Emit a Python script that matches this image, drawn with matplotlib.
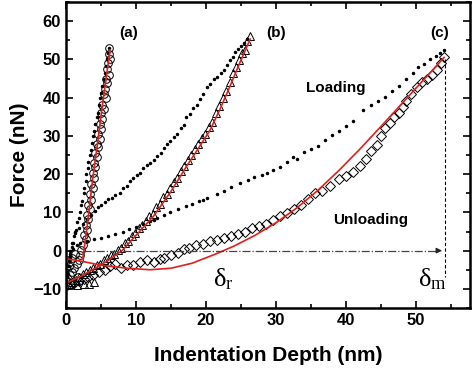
import numpy as np
import matplotlib
matplotlib.use("Agg")
import matplotlib.pyplot as plt

plt.rcParams['font.family'] = ['Liberation Sans', 'DejaVu Sans']
plt.rcParams['font.weight'] = 'bold'

# (a) loading (dots) and unloading (circles) + fit
a_load_x = [0.1, 0.2, 0.3, 0.4, 0.5, 0.6, 0.8, 1.0, 1.1, 1.3, 1.4, 1.6, 1.8, 2.0, 2.1, 2.3, 2.5, 2.6, 2.8, 2.9, 3.1,
            3.2, 3.4, 3.5, 3.7, 3.9, 4.0, 4.2, 4.4, 4.5, 4.7, 4.9, 5.0, 5.2, 5.4, 5.5, 5.7, 5.8, 6.0, 6.1]
a_load_y = [-7.0, -5.5, -4.0, -2.8, -1.5, -0.2, 1.0, 2.0, 3.8, 4.9, 5.5, 7.4, 8.6, 10.0, 11.8, 13.1, 15.0, 16.4, 18.2,
            20.0, 21.5, 23.1, 25.0, 26.2, 28.1, 30.0, 31.4, 33.2, 35.0, 36.1, 38.2, 40.0, 41.3, 43.1, 45.0, 46.4,
            48.3, 50.0, 51.6, 53.0]
a_unl_x = [6.2, 6.1, 6.3, 6.0, 5.9, 6.1, 5.7, 5.9, 5.6, 5.4, 5.7, 5.2, 5.4, 5.0, 5.2, 4.8, 5.0, 4.6, 4.8, 4.4, 4.6,
           4.2, 4.4, 4.0, 4.2, 3.8, 4.0, 3.6, 3.8, 3.4, 3.6, 3.2, 3.4, 3.0, 3.2, 2.8, 3.0, 2.6, 2.8, 2.4, 2.2,
           2.0, 1.8, 1.5, 1.2, 0.9, 0.6, 0.3, 0.1, 0.4, 0.8, 1.3, 1.7, 0.2]
a_unl_y = [53.0, 51.5, 50.2, 49.0, 47.5, 46.0, 45.0, 43.8, 42.3, 41.0, 39.8, 38.2, 37.0, 35.9, 34.5, 33.2, 31.8,
           30.5, 29.2, 28.0, 27.2, 25.6, 24.4, 23.0, 21.8, 20.2, 19.0, 17.5, 16.3, 14.8, 13.3, 12.0, 10.8, 9.4,
           8.2, 6.8, 5.5, 4.2, 3.0, 1.5, 0.2, -1.2, -2.5, -3.5, -4.5, -5.5, -6.5, -7.5, -8.0, -4.0, -2.0,
           -1.0, -6.8, -2.5]
a_fit_x = [2.4, 3.0, 3.8, 4.5, 5.2, 5.8, 6.3]
a_fit_y = [-2.0, 6.0, 18.5, 28.0, 38.0, 46.0, 52.5]

# (b) loading (dots) and unloading (triangles) + fit
b_load_x = [0.2, 0.4, 0.6, 0.9, 1.3, 1.8, 2.4, 3.0, 3.6, 4.2, 4.6, 5.0, 5.5, 6.0, 6.5, 7.0, 7.7, 8.2, 8.7, 9.2,
            9.6, 10.1, 10.6, 11.0, 11.5, 12.0, 12.5, 13.0, 13.5, 14.0, 14.4, 14.9, 15.4, 15.9, 16.4, 16.8, 17.2,
            17.7, 18.2, 18.7, 19.2, 19.6, 20.1, 20.6, 21.1, 21.6, 22.1, 22.6, 23.0, 23.4, 23.8, 24.2, 24.6, 25.0,
            25.4, 25.8]
b_load_y = [-7.0, -4.0, -1.0, 2.0, 4.5, 5.8, 7.0, 8.2, 9.4, 10.4, 11.4, 12.0, 12.6, 13.4, 13.8, 14.6, 15.1, 16.4,
            17.0, 18.3, 19.0, 19.9, 20.4, 21.6, 22.3, 23.0, 23.8, 24.8, 25.6, 26.8, 28.0, 28.6, 29.8, 30.6, 32.0,
            32.8, 35.0, 35.6, 37.2, 38.0, 39.6, 41.0, 42.9, 43.6, 44.8, 45.5, 46.4, 47.3, 48.5, 49.9, 50.6, 51.8,
            52.6, 53.6, 54.4, 55.2]
b_unl_x = [26.3, 25.9, 25.5, 25.1, 24.7, 24.3, 23.9, 23.4, 22.9, 22.4, 21.9, 21.4, 20.9, 20.4, 19.9, 19.4, 18.9,
           18.4, 17.9, 17.4, 16.9, 16.4, 15.9, 15.4, 14.9, 14.4, 13.9, 13.4, 12.9, 12.4, 11.9, 11.4, 10.9, 10.4,
           9.9, 9.4, 8.9, 8.4, 7.9, 7.4, 6.9, 6.4, 5.9, 5.4, 4.9, 4.4, 3.9, 3.4, 2.9, 2.4, 1.9, 1.4, 0.9, 0.4,
           1.5, 2.5, 3.3, 4.0]
b_unl_y = [56.2, 54.8, 52.5, 51.6, 49.8, 48.0, 46.5, 44.2, 41.7, 40.0, 37.8, 36.1, 33.6, 32.3, 30.4, 29.5, 27.9,
           26.5, 25.0, 23.8, 22.0, 20.9, 19.1, 17.9, 16.4, 14.8, 13.9, 12.2, 11.3, 9.7, 9.0, 7.8, 6.6, 5.9,
           4.6, 3.9, 2.6, 1.9, 0.7, 0.1, -0.9, -1.1, -2.0, -2.5, -3.4, -3.8, -4.5, -5.0, -5.6, -6.2, -7.0, -7.8,
           -8.3, -8.6, -9.0, -8.8, -8.6, -8.2]
b_fit_x = [0.0, 2.0, 4.0, 6.0, 8.0, 10.0, 12.5, 15.0, 17.2, 19.0, 20.6, 22.0, 23.4, 24.8, 26.3]
b_fit_y = [-8.5, -6.8, -4.8, -2.6, 0.0, 4.0, 9.0, 15.5, 22.0, 27.0, 31.6, 37.0, 42.9, 49.0, 55.3]

# (c) loading (dots) and unloading (diamonds) + fit
c_load_x = [0.3, 0.6, 1.0, 1.5, 2.0, 3.0, 4.0, 5.0, 6.0, 7.0, 8.1, 9.0, 10.0, 11.0, 12.0, 12.5, 13.0, 14.0, 14.9,
            16.0, 17.2, 18.0, 19.0, 19.6, 20.2, 21.5, 22.5, 23.5, 24.9, 26.0, 26.8, 28.0, 28.7, 29.5, 30.5, 31.5,
            32.4, 33.0, 34.0, 35.0, 36.0, 37.0, 38.0, 39.0, 40.0, 41.0, 42.4, 43.5, 44.5, 45.5, 46.5, 47.5, 48.5,
            49.5, 50.3, 51.2, 52.0, 52.8, 53.4, 54.0]
c_load_y = [-6.0, -2.0, 0.5, 1.5, 2.0, 2.5, 3.0, 3.4, 3.8, 4.3, 4.9, 5.6, 6.2, 7.0, 7.8, 8.1, 8.6, 9.3, 10.0, 10.8,
            11.6, 12.3, 13.0, 13.3, 13.8, 14.8, 15.6, 16.6, 17.6, 18.4, 19.2, 19.8, 20.4, 21.2, 21.8, 23.2, 24.6,
            24.0, 25.8, 26.6, 27.4, 29.0, 30.2, 31.2, 32.6, 34.0, 36.8, 38.0, 39.2, 40.2, 41.8, 43.0, 45.0, 46.5,
            48.0, 48.8, 50.0, 51.0, 51.7, 52.5]
c_unl_x = [54.0, 53.5, 53.0, 52.3, 51.5, 50.8, 50.1, 49.3, 48.6, 48.2, 47.5, 46.8, 46.3, 45.6, 45.0, 44.4, 43.5,
           42.8, 42.0, 41.0, 40.0, 39.0, 37.7, 36.5, 35.5, 34.5, 33.5, 32.5, 31.5, 30.5, 29.5, 28.5, 27.5,
           26.5, 25.5, 24.5, 23.5, 22.5, 21.5, 20.5, 19.5, 18.5, 17.5, 16.8, 16.0, 15.0, 14.0, 13.4, 12.5,
           11.5, 10.5, 9.6, 8.7, 7.8, 7.0, 6.3, 5.5, 4.7, 3.9, 3.2, 2.5, 1.8, 1.2, 0.6, 0.2]
c_unl_y = [50.5, 49.0, 47.3, 46.0, 45.0, 44.0, 42.9, 41.0, 39.0, 37.6, 36.0, 35.0, 33.4, 32.0, 30.0, 27.5, 26.0,
           24.0, 22.0, 20.5, 19.5, 18.8, 17.0, 15.5, 15.0, 13.5, 12.0, 11.0, 9.8, 9.0, 8.0, 7.0, 6.5, 5.8,
           4.8, 4.4, 3.7, 3.2, 2.9, 2.5, 1.8, 1.5, 0.8, 0.3, -0.5, -1.2, -2.0, -2.3, -2.9, -2.5, -3.0, -3.8,
           -3.7, -4.5, -3.5, -4.1, -5.0, -5.5, -6.3, -6.8, -7.5, -8.0, -8.5, -8.8, -9.0]
c_fit_x = [0.3, 2.0, 5.0, 8.7, 12.0, 15.0, 18.0, 21.5, 24.0, 27.0, 30.0, 33.0, 36.0, 39.0, 42.0, 45.0, 48.0,
           51.0, 54.0]
c_fit_y = [-2.2, -2.7, -3.8, -4.6, -5.0, -4.6, -3.3, -0.8, 1.2, 4.0, 7.3, 11.2, 15.8, 21.0, 26.6, 32.5, 38.5,
           44.5, 50.5]

delta_r = 2.4
delta_m = 54.1

fig = plt.figure(figsize=(4.74, 3.70), dpi=100)
ax = fig.add_axes([66 / 474, 1 - 308 / 370, 404 / 474, 306 / 370])

mk = dict(mfc='none', mec='black', mew=0.7, ls='none')
ax.plot(a_unl_x, a_unl_y, marker='o', ms=5.5, **mk)
ax.plot(b_unl_x, b_unl_y, marker='^', ms=6, **mk)
ax.plot(c_unl_x, c_unl_y, marker='D', ms=5, **mk)

for lx, ly in [(a_load_x, a_load_y), (b_load_x, b_load_y), (c_load_x, c_load_y)]:
    ax.plot(lx, ly, ls='none', marker='.', ms=3, color='black')

for fx, fy in [(a_fit_x, a_fit_y), (b_fit_x, b_fit_y), (c_fit_x, c_fit_y)]:
    ax.plot(fx, fy, color='#e0201b', lw=1.2)

# residual / max depth guides
ax.plot([delta_r, delta_m - 0.6], [0, 0], color='#444444', lw=0.9, ls='-.')
ax.annotate('', xy=(delta_m, 0), xytext=(delta_m - 1.5, 0),
            arrowprops=dict(arrowstyle='-|>', color='#222222', lw=0.9, mutation_scale=8))
ax.plot([delta_m, delta_m], [50, -7], color='black', lw=0.8, ls=(0, (3, 2)))
ax.plot([delta_r, delta_r], [0, -2.6], color='#e0201b', lw=1.0, ls=(0, (2, 1.5)))

ax.text(8.9, 57, '(a)', fontsize=11, ha='center', va='center')
ax.text(30.0, 57, '(b)', fontsize=11, ha='center', va='center')
ax.text(53.4, 57, '(c)', fontsize=11, ha='center', va='center')
ax.text(38.5, 42.5, 'Loading', fontsize=11, ha='center', va='center')
ax.text(43.5, 8, 'Unloading', fontsize=11, ha='center', va='center')
ax.text(22.5, -7.5, r'$\mathregular{\delta_r}$', fontsize=19, ha='center', va='center',
        family='Liberation Serif', weight='normal')
ax.text(52.3, -7.5, r'$\mathregular{\delta_m}$', fontsize=19, ha='center', va='center',
        family='Liberation Serif', weight='normal')

ax.set_xlim(0, 57.7)
ax.set_ylim(-15, 65)
ax.set_xticks([0, 10, 20, 30, 40, 50])
ax.set_yticks([-10, 0, 10, 20, 30, 40, 50, 60])
ax.set_xticks(np.arange(5, 60, 10), minor=True)
ax.set_yticks(np.arange(-15, 66, 10), minor=True)
ax.tick_params(which='both', direction='in', top=True, right=True, width=1.2, labelsize=12)
ax.tick_params(which='major', length=5)
ax.tick_params(which='minor', length=3)
for sp in ax.spines.values():
    sp.set_linewidth(1.8)

ax.set_xlabel('Indentation Depth (nm)', fontsize=15, fontweight='bold', labelpad=13)
ax.set_ylabel('Force (nN)', fontsize=15, fontweight='bold', labelpad=3)

fig.savefig('out.png', dpi=100)
